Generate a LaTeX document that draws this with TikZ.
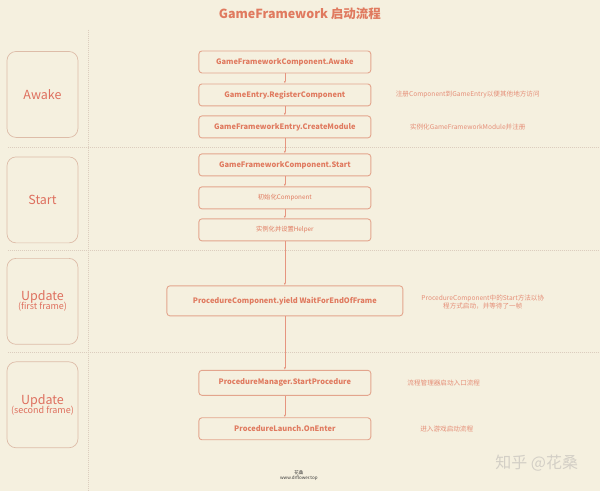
\documentclass[tikz,border=0pt]{standalone}
\usepackage{fontspec}
\setmainfont{Noto Sans CJK SC}
\usetikzlibrary{arrows.meta,positioning}

\definecolor{bgcream}{HTML}{F5F0DF}
\definecolor{salmon}{HTML}{E07A5F}
\definecolor{stagered}{HTML}{DE6F5E}
\definecolor{boxline}{HTML}{E3A58D}
\definecolor{stageline}{HTML}{DDBCA8}
\definecolor{gridline}{HTML}{DCCDBE}
\definecolor{markgray}{HTML}{D3CFC6}

\tikzset{
  stepbox/.style={draw=boxline,fill=bgcream,rounded corners=3pt,minimum width=172pt,
    minimum height=22pt,inner sep=0pt,line width=0.9pt,text=salmon,
    font=\fontsize{7.5}{9}\selectfont\bfseries},
  stagebox/.style={draw=stageline,rounded corners=9pt,minimum width=71pt,
    minimum height=86pt,line width=0.7pt,text=stagered,align=center},
  notetext/.style={text=salmon!85,font=\fontsize{6.6}{8}\selectfont,align=center},
  flow/.style={draw=salmon!80,line width=0.5pt,-{Latex[length=2.5pt,width=2pt]}},
  sep/.style={draw=gridline,line width=0.6pt,dash pattern=on 1pt off 1pt}
}

\begin{document}
\begin{tikzpicture}[x=1pt,y=-1pt]

% Hintergrund
\fill[bgcream] (0,0) rectangle (600,491);

% Titel
\node[text=salmon,font=\fontsize{12.5}{14}\selectfont\bfseries] (title) at (300,14)
  {GameFramework 启动流程};

% Trennlinien
\draw[sep] (88,30)--(88,491);
\draw[sep] (8,147)--(600,147);
\draw[sep] (8,250)--(600,250);
\draw[sep] (8,352)--(600,352);

% Phasen
\def\sx{42.5}
\node[stagebox] (awake) at (\sx,94.5) {\fontsize{12.5}{14}\selectfont Awake};
\node[stagebox] (start) at (\sx,200) {\fontsize{12.5}{14}\selectfont Start};
\node[stagebox] (firstframe) at (\sx,301.5)
  {\fontsize{12.5}{14}\selectfont Update\\[-3pt]\fontsize{9}{10}\selectfont (first frame)};
\node[stagebox] (secondframe) at (\sx,405)
  {\fontsize{12.5}{14}\selectfont Update\\[-3pt]\fontsize{9}{10}\selectfont (second frame)};

% Ablauf
\def\cx{285}
\node[stepbox] (fwawake) at (\cx,62) {GameFrameworkComponent.Awake};
\node[stepbox] (regcomp) at (\cx,95) {GameEntry.RegisterComponent};
\node[stepbox] (createmod) at (\cx,127) {GameFrameworkEntry.CreateModule};
\node[stepbox] (fwstart) at (\cx,165) {GameFrameworkComponent.Start};
\node[stepbox,font=\fontsize{6.3}{7.5}\selectfont] (initcomp) at (\cx,198) {初始化Component};
\node[stepbox,font=\fontsize{6.3}{7.5}\selectfont] (inithelper) at (\cx,230) {实例化并设置Helper};
\node[stepbox,minimum width=236pt,minimum height=30pt] (yieldframe) at (\cx,301)
  {ProcedureComponent.yield WaitForEndOfFrame};
\node[stepbox,minimum height=25pt] (startproc) at (\cx,383) {ProcedureManager.StartProcedure};
\node[stepbox] (launchenter) at (\cx,429) {ProcedureLaunch.OnEnter};

\draw[flow] (fwawake)--(regcomp);
\draw[flow] (regcomp)--(createmod);
\draw[flow] (createmod)--(fwstart);
\draw[flow] (fwstart)--(initcomp);
\draw[flow] (initcomp)--(inithelper);
\draw[flow] (inithelper)--(yieldframe);
\draw[flow] (yieldframe)--(startproc);
\draw[flow] (startproc)--(launchenter);

% Anmerkungen
\node[notetext] (noteregcomp) at (468,95) {注册Component到GameEntry以便其他地方访问};
\node[notetext] (notecreatemod) at (468,127) {实例化GameFrameworkModule并注册};
\node[notetext] (noteyield) at (483,302)
  {ProcedureComponent中的Start方法以协\\程方式启动，并等待了一帧};
\node[notetext] (notestartproc) at (444,383) {流程管理器启动入口流程};
\node[notetext] (notelaunch) at (447,429) {进入游戏启动流程};

% Fusszeile
\node[font=\fontsize{4.5}{5.5}\selectfont,align=center,text=black!80] (footer) at (299,476)
  {花桑\\www.drflower.top};
\node[text=markgray,font=\fontsize{16}{18}\selectfont] (watermark) at (537,463) {知乎 @花桑};

\end{tikzpicture}
\end{document}
